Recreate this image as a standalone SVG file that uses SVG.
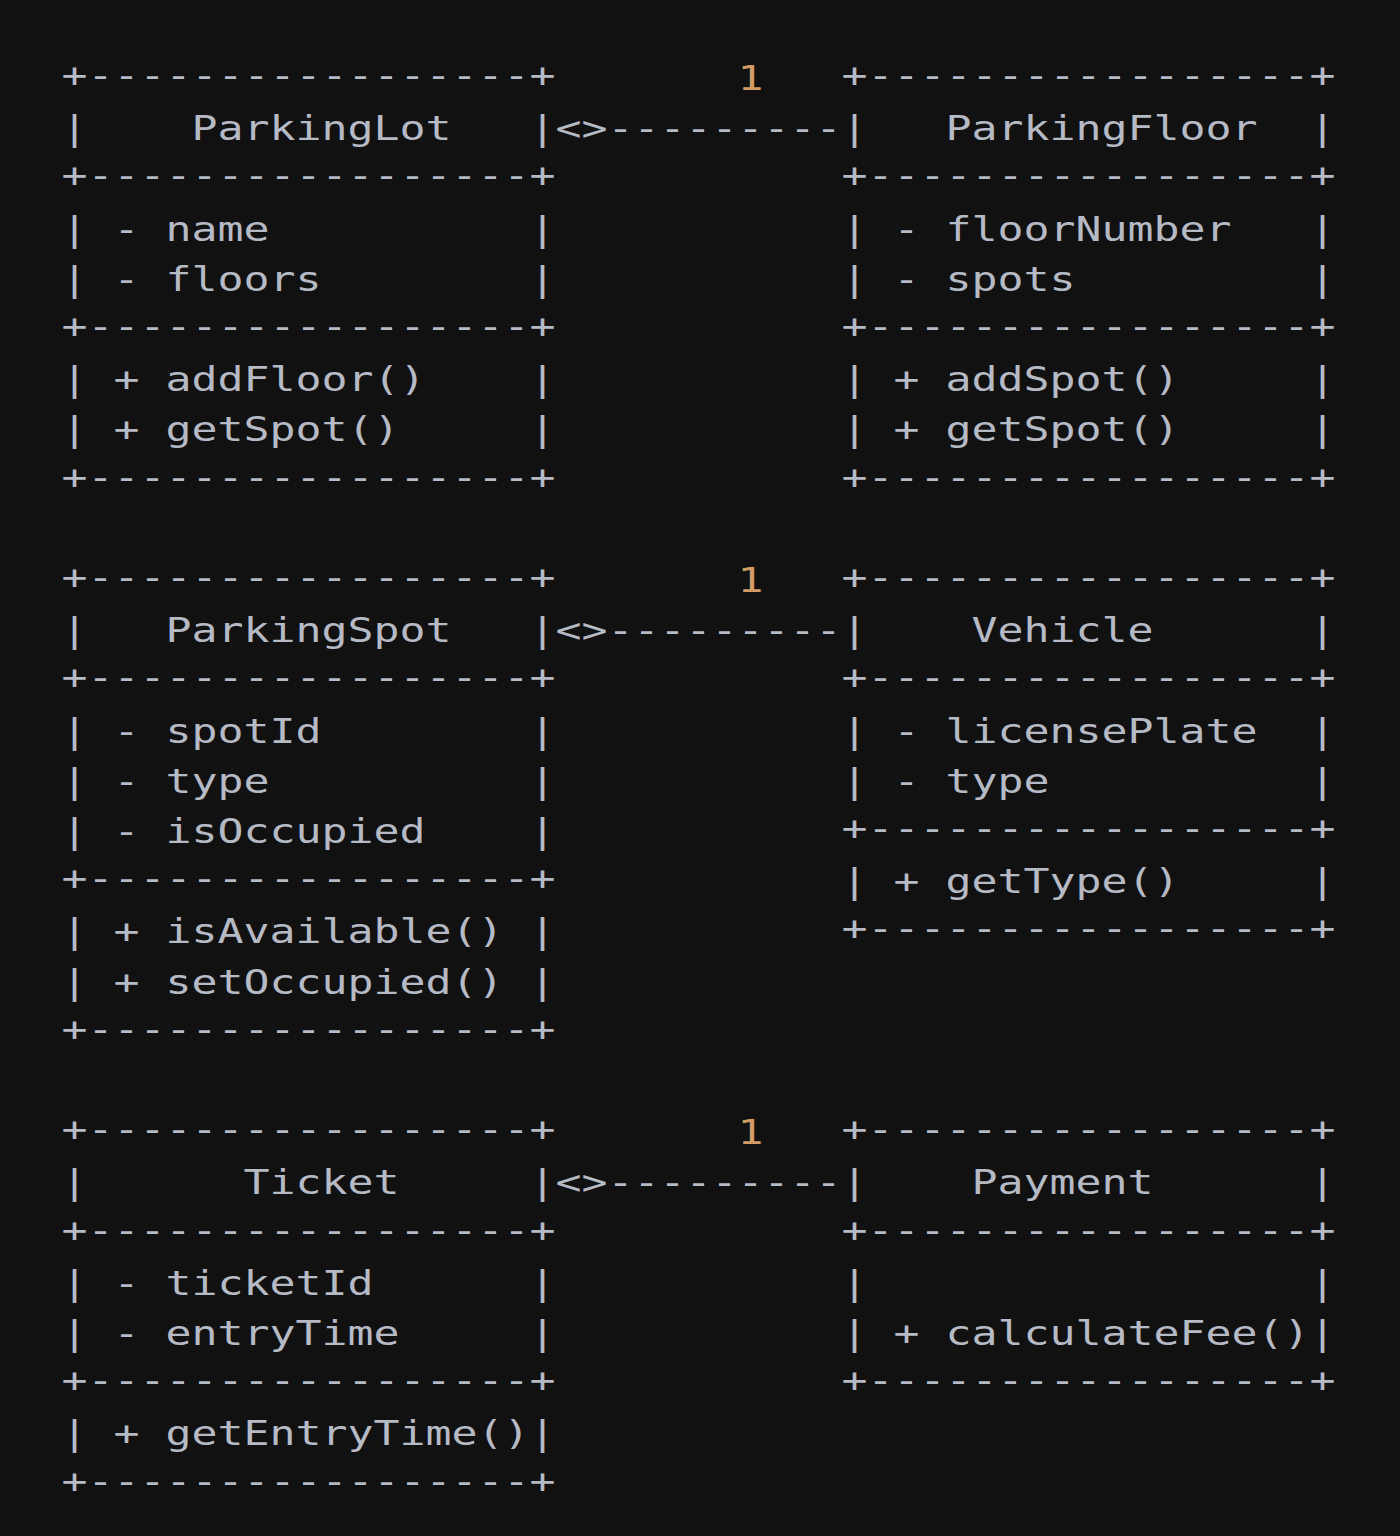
<svg xmlns="http://www.w3.org/2000/svg" width="1400" height="1536" viewBox="0 0 1400 1536">
<style>
.t { font-family: "DejaVu Sans Mono", "Liberation Mono", monospace; font-size: 34px; fill: #b6bac5; white-space: pre; }
.n { fill: #d39c66; }
</style>
<rect x="0" y="0" width="1400" height="1536" fill="#111111"/>
<g id="ParkingLot" class="t" transform="translate(61.5,0) scale(1.2702,1)">
<text xml:space="preserve" x="0" y="87">+-----------------+</text>
<text xml:space="preserve" x="0" y="140.2">|    ParkingLot   |</text>
<text xml:space="preserve" x="0" y="187.4">+-----------------+</text>
<text xml:space="preserve" x="0" y="240.6">| - name          |</text>
<text xml:space="preserve" x="0" y="290.8">| - floors        |</text>
<text xml:space="preserve" x="0" y="338">+-----------------+</text>
<text xml:space="preserve" x="0" y="391.2">| + addFloor()    |</text>
<text xml:space="preserve" x="0" y="441.4">| + getSpot()     |</text>
<text xml:space="preserve" x="0" y="488.6">+-----------------+</text>
</g>
<g id="ParkingFloor" class="t" transform="translate(841.5,0) scale(1.2702,1)">
<text xml:space="preserve" x="0" y="87">+-----------------+</text>
<text xml:space="preserve" x="0" y="140.2">|   ParkingFloor  |</text>
<text xml:space="preserve" x="0" y="187.4">+-----------------+</text>
<text xml:space="preserve" x="0" y="240.6">| - floorNumber   |</text>
<text xml:space="preserve" x="0" y="290.8">| - spots         |</text>
<text xml:space="preserve" x="0" y="338">+-----------------+</text>
<text xml:space="preserve" x="0" y="391.2">| + addSpot()     |</text>
<text xml:space="preserve" x="0" y="441.4">| + getSpot()     |</text>
<text xml:space="preserve" x="0" y="488.6">+-----------------+</text>
</g>
<g id="ParkingSpot" class="t" transform="translate(61.5,0) scale(1.2702,1)">
<text xml:space="preserve" x="0" y="589">+-----------------+</text>
<text xml:space="preserve" x="0" y="642.2">|   ParkingSpot   |</text>
<text xml:space="preserve" x="0" y="689.4">+-----------------+</text>
<text xml:space="preserve" x="0" y="742.6">| - spotId        |</text>
<text xml:space="preserve" x="0" y="792.8">| - type          |</text>
<text xml:space="preserve" x="0" y="843">| - isOccupied    |</text>
<text xml:space="preserve" x="0" y="890.2">+-----------------+</text>
<text xml:space="preserve" x="0" y="943.4">| + isAvailable() |</text>
<text xml:space="preserve" x="0" y="993.6">| + setOccupied() |</text>
<text xml:space="preserve" x="0" y="1040.8">+-----------------+</text>
</g>
<g id="Vehicle" class="t" transform="translate(841.5,0) scale(1.2702,1)">
<text xml:space="preserve" x="0" y="589">+-----------------+</text>
<text xml:space="preserve" x="0" y="642.2">|    Vehicle      |</text>
<text xml:space="preserve" x="0" y="689.4">+-----------------+</text>
<text xml:space="preserve" x="0" y="742.6">| - licensePlate  |</text>
<text xml:space="preserve" x="0" y="792.8">| - type          |</text>
<text xml:space="preserve" x="0" y="840">+-----------------+</text>
<text xml:space="preserve" x="0" y="893.2">| + getType()     |</text>
<text xml:space="preserve" x="0" y="940.4">+-----------------+</text>
</g>
<g id="Ticket" class="t" transform="translate(61.5,0) scale(1.2702,1)">
<text xml:space="preserve" x="0" y="1141.2">+-----------------+</text>
<text xml:space="preserve" x="0" y="1194.4">|      Ticket     |</text>
<text xml:space="preserve" x="0" y="1241.6">+-----------------+</text>
<text xml:space="preserve" x="0" y="1294.8">| - ticketId      |</text>
<text xml:space="preserve" x="0" y="1345">| - entryTime     |</text>
<text xml:space="preserve" x="0" y="1392.2">+-----------------+</text>
<text xml:space="preserve" x="0" y="1445.4">| + getEntryTime()|</text>
<text xml:space="preserve" x="0" y="1492.6">+-----------------+</text>
</g>
<g id="Payment" class="t" transform="translate(841.5,0) scale(1.2702,1)">
<text xml:space="preserve" x="0" y="1141.2">+-----------------+</text>
<text xml:space="preserve" x="0" y="1194.4">|    Payment      |</text>
<text xml:space="preserve" x="0" y="1241.6">+-----------------+</text>
<text xml:space="preserve" x="0" y="1294.8">|                 |</text>
<text xml:space="preserve" x="0" y="1345">| + calculateFee()|</text>
<text xml:space="preserve" x="0" y="1392.2">+-----------------+</text>
</g>
<g id="connectors" class="t">
<g transform="translate(737.5,0) scale(1.2702,1)">
<text class="t n" x="0" y="90">1</text>
<text class="t n" x="0" y="592">1</text>
<text class="t n" x="0" y="1144.2">1</text>
</g>
<g transform="translate(555.5,0) scale(1.2702,1)">
<text x="0" y="140.2">&lt;&gt;---------</text>
<text x="0" y="642.2">&lt;&gt;---------</text>
<text x="0" y="1194.4">&lt;&gt;---------</text>
</g>
</g>
</svg>
